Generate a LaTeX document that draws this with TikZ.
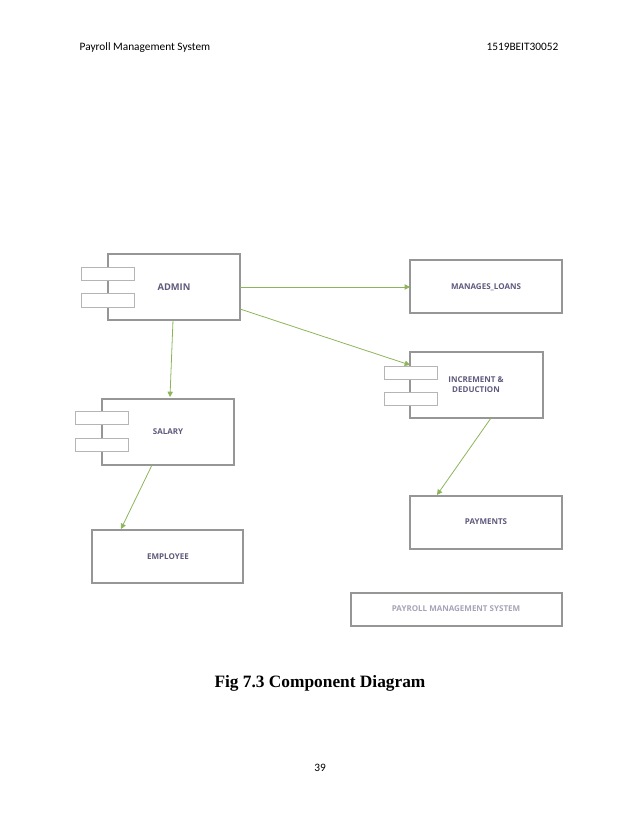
\documentclass[tikz,border=0pt]{standalone}
\usepackage{fontspec}
\setmainfont{Carlito}
\newfontfamily\tnr{Liberation Serif}
\newfontfamily\osans{Open Sans}
\usetikzlibrary{arrows.meta}
\definecolor{lbl}{RGB}{95,90,125}
\definecolor{edge}{RGB}{150,150,150}
\definecolor{arr}{RGB}{140,180,90}
\begin{document}
\begin{tikzpicture}[x=0.75pt,y=-0.75pt,
  box/.style={draw=edge,line width=0.8pt,fill=white},
  port/.style={draw=edge!70,line width=0.7pt,fill=white},
  lab/.style={font=\osans\bfseries\fontsize{6}{7.5}\selectfont,text=lbl,align=center},
  con/.style={draw=arr,line width=0.6pt,-{Triangle[length=4pt,width=4pt]}}]
\useasboundingbox (0,0) rectangle (638,826);
\node[anchor=base west,font=\fontsize{8.5}{10}\selectfont] (h1) at (75,50) {Payroll Management System};
\node[anchor=base east,font=\fontsize{8.5}{10}\selectfont] (h2) at (563,50) {1519BEIT30052};
% boxes
\draw[box] (108,254) rectangle (240,320);
\draw[port] (81,267) rectangle (134,280);
\draw[port] (81,293) rectangle (134,307);
\node[lab,font=\osans\bfseries\fontsize{7}{8}\selectfont] (admin) at (174,287) {ADMIN};
\coordinate (adminR) at (240,287);
\coordinate (adminR2) at (240,309);
\coordinate (adminB) at (173,320);

\draw[box] (410,260) rectangle (562,313);
\node[lab] (loans) at (486,287) {MANAGES\_LOANS};
\coordinate (loansL) at (410,287);

\draw[box] (410,352) rectangle (543,418);
\draw[port] (384,366) rectangle (437,379);
\draw[port] (384,392) rectangle (437,405);
\node[lab] (inc) at (476,385) {INCREMENT \&\\DEDUCTION};
\coordinate (incL) at (410,365);
\coordinate (incB) at (491,418);

\draw[box] (102,399) rectangle (234,465);
\draw[port] (75,411) rectangle (128,424);
\draw[port] (75,438) rectangle (128,451);
\node[lab] (salary) at (168,432) {SALARY};
\coordinate (salT) at (170,397);
\coordinate (salB) at (152,465);

\draw[box] (92,530) rectangle (243,583);
\node[lab] (emp) at (168,557) {EMPLOYEE};
\coordinate (empT) at (121,529);

\draw[box] (410,496) rectangle (562,549);
\node[lab] (pay) at (486,522) {PAYMENTS};
\coordinate (payT) at (437,495);

\draw[box] (351,593) rectangle (562,626);
\node[lab,text=lbl!55] (pms) at (456,609) {PAYROLL MANAGEMENT SYSTEM};

\draw[con] (adminR) -- (loansL);
\draw[con] (adminR2) -- (incL);
\draw[con] (adminB) -- (salT);
\draw[con] (incB) -- (payT);
\draw[con] (salB) -- (empT);

\node[font=\tnr\bfseries\fontsize{13}{15}\selectfont] (cap) at (320,683) {Fig 7.3 Component Diagram};
\node[font=\fontsize{8.5}{10}\selectfont] (pg) at (320,768) {39};
\end{tikzpicture}
\end{document}
